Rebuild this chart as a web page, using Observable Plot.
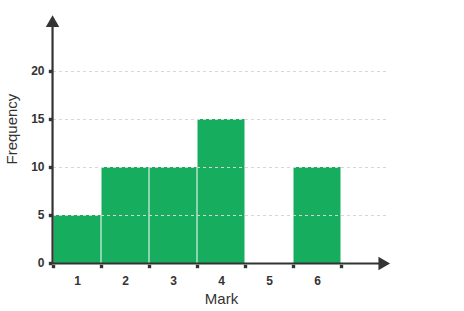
<!DOCTYPE html>
<html>
<head>
<meta charset="utf-8">
<script src="https://cdn.jsdelivr.net/npm/d3@7"></script>
<script src="https://cdn.jsdelivr.net/npm/@observablehq/plot@0.6"></script>
<style>
  body { margin: 0; background: #fff; }
  #chart svg { display: block; font-family: "Liberation Sans", Arial, sans-serif; }
</style>
</head>
<body>
<div id="chart"></div>
<script>
const marks = [1, 2, 3, 4, 5, 6];
const frequency = [5, 10, 10, 15, 0, 10];
const yTicks = [0, 5, 10, 15, 20];
const xTickLabels = ["1", "2", "3", "4", "5", "6"];
const xLabel = "Mark";
const yLabel = "Frequency";

const data = marks.map((m, i) => ({ mark: m, freq: frequency[i] }));
const binEdges = [0.5, ...marks.map(m => m + 0.5)];
const ink = "#333333";
const green = "#17ad5f";

const chart = Plot.plot({
  width: 464,
  height: 311,
  marginLeft: 53,
  marginRight: 75,
  marginTop: 15,
  marginBottom: 48,
  x: { domain: [0.5, 7.5], label: null },
  y: { domain: [0, 25.83], label: null },
  style: { fontFamily: "Liberation Sans, Arial, sans-serif", color: ink, background: "#fff" },
  marks: [
    Plot.rectY(data.filter(d => d.freq > 0), {
      x1: d => d.mark - 0.5, x2: d => d.mark + 0.5, y1: 0, y2: d => d.freq,
      fill: green, insetLeft: 0.5, insetRight: 0.5
    }),
    Plot.ruleY(yTicks.slice(1), {
      x1: 0.5, x2: 7.45, stroke: "#d6d6d6", strokeWidth: 1, strokeDasharray: "3,3"
    }),
    // axes lines
    Plot.ruleX([0.48], { y1: 0, y2: 25, stroke: ink, strokeWidth: 2.2 }),
    Plot.ruleY([0], { x1: 0.48, x2: 7.3, stroke: ink, strokeWidth: 2.2 }),
    // arrow heads
    Plot.dot([0], { x: 0.48, y: 25.05, symbol: "triangle", r: 5, fill: ink, stroke: "none" }),
    Plot.dot([0], { x: 7.35, y: 0, symbol: "triangle", r: 5, fill: ink, stroke: "none", rotate: 90 }),
    // tick squares
    Plot.dot(yTicks, { x: 0.5, y: d => d, dx: -3, symbol: "square", r: 1.9, fill: ink, stroke: "none" }),
    Plot.dot(binEdges, { x: d => d, y: 0, dy: 3, symbol: "square", r: 1.9, fill: ink, stroke: "none" }),
    // tick labels
    Plot.axisY(yTicks, { label: null, tickSize: 0, tickPadding: 9, fontSize: 12, fontWeight: "bold", fill: ink }),
    Plot.axisX(marks, { label: null, tickSize: 0, tickPadding: 12.5, fontSize: 12, fontWeight: "bold", fill: ink,
      tickFormat: (d, i) => xTickLabels[i] }),
    // axis titles
    Plot.text([xLabel], { x: 4, frameAnchor: "bottom", dy: 36, lineAnchor: "middle", textAnchor: "middle",
      text: d => d, fontSize: 15, fill: ink }),
    Plot.text([yLabel], { y: 14, frameAnchor: "left", dx: -41, rotate: -90, textAnchor: "middle", lineAnchor: "middle",
      text: d => d, fontSize: 15, fill: ink })
  ]
});
document.getElementById("chart").appendChild(chart);
</script>
</body>
</html>
